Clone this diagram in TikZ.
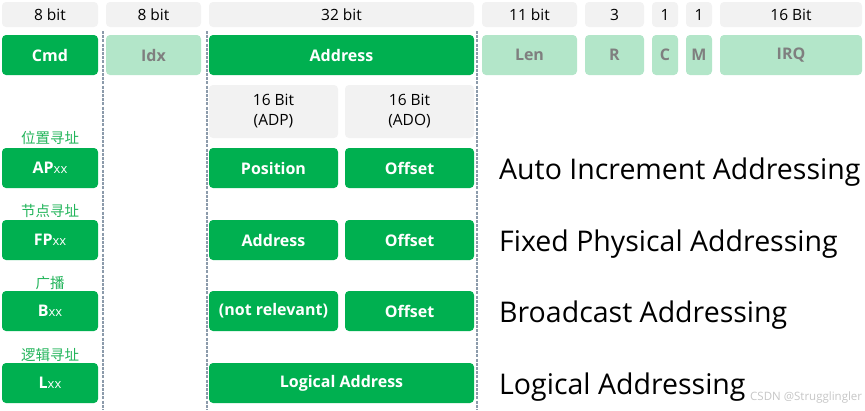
\documentclass[tikz,border=0pt]{standalone}
\usepackage{fontspec}
\setmainfont{Open Sans}
\newfontfamily\cjk{Noto Sans CJK SC}
\definecolor{eg}{HTML}{00B050}
\definecolor{lg}{HTML}{B3E6C9}
\definecolor{gb}{HTML}{F2F2F2}
\definecolor{dl}{HTML}{8C9BAB}
\definecolor{lt}{HTML}{7F7F7F}
\definecolor{cn}{HTML}{22B45A}
\begin{document}
\begin{tikzpicture}[x=1pt,y=-1pt,
  cell/.style={rounded corners=4pt, inner sep=0pt, anchor=center, align=center},
  graybox/.style={cell, fill=gb, text=black, font=\fontsize{15.5}{20}\selectfont},
  greenbox/.style={cell, fill=eg, text=white, font=\fontsize{16}{18}\selectfont\bfseries},
  lightbox/.style={cell, fill=lg, text=lt, font=\fontsize{16}{18}\selectfont\bfseries},
  cnlabel/.style={text=cn, font=\fontsize{14.5}{16}\cjk, inner sep=0pt, anchor=center},
  modetext/.style={text=black, font=\fontsize{28.5}{32}\selectfont, inner sep=0pt, anchor=west},
  divider/.style={draw=dl, line width=1.5pt, dash pattern=on 3pt off 1.2pt},
  wmark/.style={text=gray!45, font=\fontsize{11.5}{14}\selectfont, inner sep=0pt, anchor=west}
]
\useasboundingbox (0,0) rectangle (865,410);
\newcommand\sm[1]{{\fontsize{13}{14}\selectfont\mdseries #1}}
% top gray row
\node[graybox, minimum width=96pt, minimum height=25pt] (t1) at (50,14.5) {8 bit};
\node[graybox, minimum width=95pt, minimum height=25pt] (t2) at (153.5,14.5) {8 bit};
\node[graybox, minimum width=265pt, minimum height=25pt] (t3) at (341.5,14.5) {32 bit};
\node[graybox, minimum width=95pt, minimum height=25pt] (t4) at (529.5,14.5) {11 bit};
\node[graybox, minimum width=59pt, minimum height=25pt] (t5) at (614.5,14.5) {3};
\node[graybox, minimum width=26pt, minimum height=25pt] (t6) at (665,14.5) {1};
\node[graybox, minimum width=26pt, minimum height=25pt] (t7) at (699,14.5) {1};
\node[graybox, minimum width=142pt, minimum height=25pt] (t8) at (791,14.5) {16 Bit};
% field row
\node[greenbox, minimum width=96pt, minimum height=40pt] (f1) at (50,55) {Cmd};
\node[lightbox, minimum width=95pt, minimum height=40pt] (f2) at (153.5,55) {Idx};
\node[greenbox, minimum width=265pt, minimum height=40pt] (f3) at (341.5,55) {Address};
\node[lightbox, minimum width=95pt, minimum height=40pt] (f4) at (529.5,55) {Len};
\node[lightbox, minimum width=59pt, minimum height=40pt] (f5) at (614.5,55) {R};
\node[lightbox, minimum width=26pt, minimum height=40pt] (f6) at (665,55) {C};
\node[lightbox, minimum width=26pt, minimum height=40pt] (f7) at (699,55) {M};
\node[lightbox, minimum width=142pt, minimum height=40pt] (f8) at (791,55) {IRQ};
% sub-field widths
\node[graybox, minimum width=129pt, minimum height=53pt] (adp) at (273.5,111.5) {16 Bit\\(ADP)};
\node[graybox, minimum width=129pt, minimum height=53pt] (ado) at (409.5,111.5) {16 Bit\\(ADO)};
% AP row
\node[cnlabel] (c1) at (50,138) {位置寻址};
\node[greenbox, minimum width=96pt, minimum height=40pt] (ap) at (50,168) {AP\sm{xx}};
\node[greenbox, minimum width=129pt, minimum height=40pt] (ap1) at (273.5,168) {Position};
\node[greenbox, minimum width=129pt, minimum height=40pt] (ap2) at (409.5,168) {Offset};
\node[modetext] (m1) at (499,172) {Auto Increment Addressing};
% FP row
\node[cnlabel] (c2) at (50,211) {节点寻址};
\node[greenbox, minimum width=96pt, minimum height=40pt] (fp) at (50,240) {FP\sm{xx}};
\node[greenbox, minimum width=129pt, minimum height=40pt] (fp1) at (273.5,240) {Address};
\node[greenbox, minimum width=129pt, minimum height=40pt] (fp2) at (409.5,240) {Offset};
\node[modetext] (m2) at (499,244) {Fixed Physical Addressing};
% B row
\node[cnlabel] (c3) at (50,283) {广播};
\node[greenbox, minimum width=96pt, minimum height=40pt] (bb) at (50,311) {B\sm{xx}};
\node[greenbox, minimum width=129pt, minimum height=40pt] (bb1) at (273.5,311) {(not relevant)};
\node[greenbox, minimum width=129pt, minimum height=40pt] (bb2) at (409.5,311) {Offset};
\node[modetext] (m3) at (499,315) {Broadcast Addressing};
% L row
\node[cnlabel] (c4) at (50,355) {逻辑寻址};
\node[greenbox, minimum width=96pt, minimum height=40pt] (ll) at (50,383) {L\sm{xx}};
\node[greenbox, minimum width=265pt, minimum height=40pt] (ll1) at (341.5,383) {Logical Address};
\node[modetext] (m4) at (499,387) {Logical Addressing};
% dividers
\coordinate (d1a) at (103,31); \coordinate (d1b) at (103,410);
\coordinate (d2a) at (207,31); \coordinate (d2b) at (207,410);
\coordinate (d3a) at (477,31); \coordinate (d3b) at (477,410);
\draw[divider] (d1a) -- (d1b);
\draw[divider] (d2a) -- (d2b);
\draw[divider] (d3a) -- (d3b);
% watermark
\node[wmark] (wm) at (750,398) {CSDN @Strugglingler};
\end{tikzpicture}
\end{document}
